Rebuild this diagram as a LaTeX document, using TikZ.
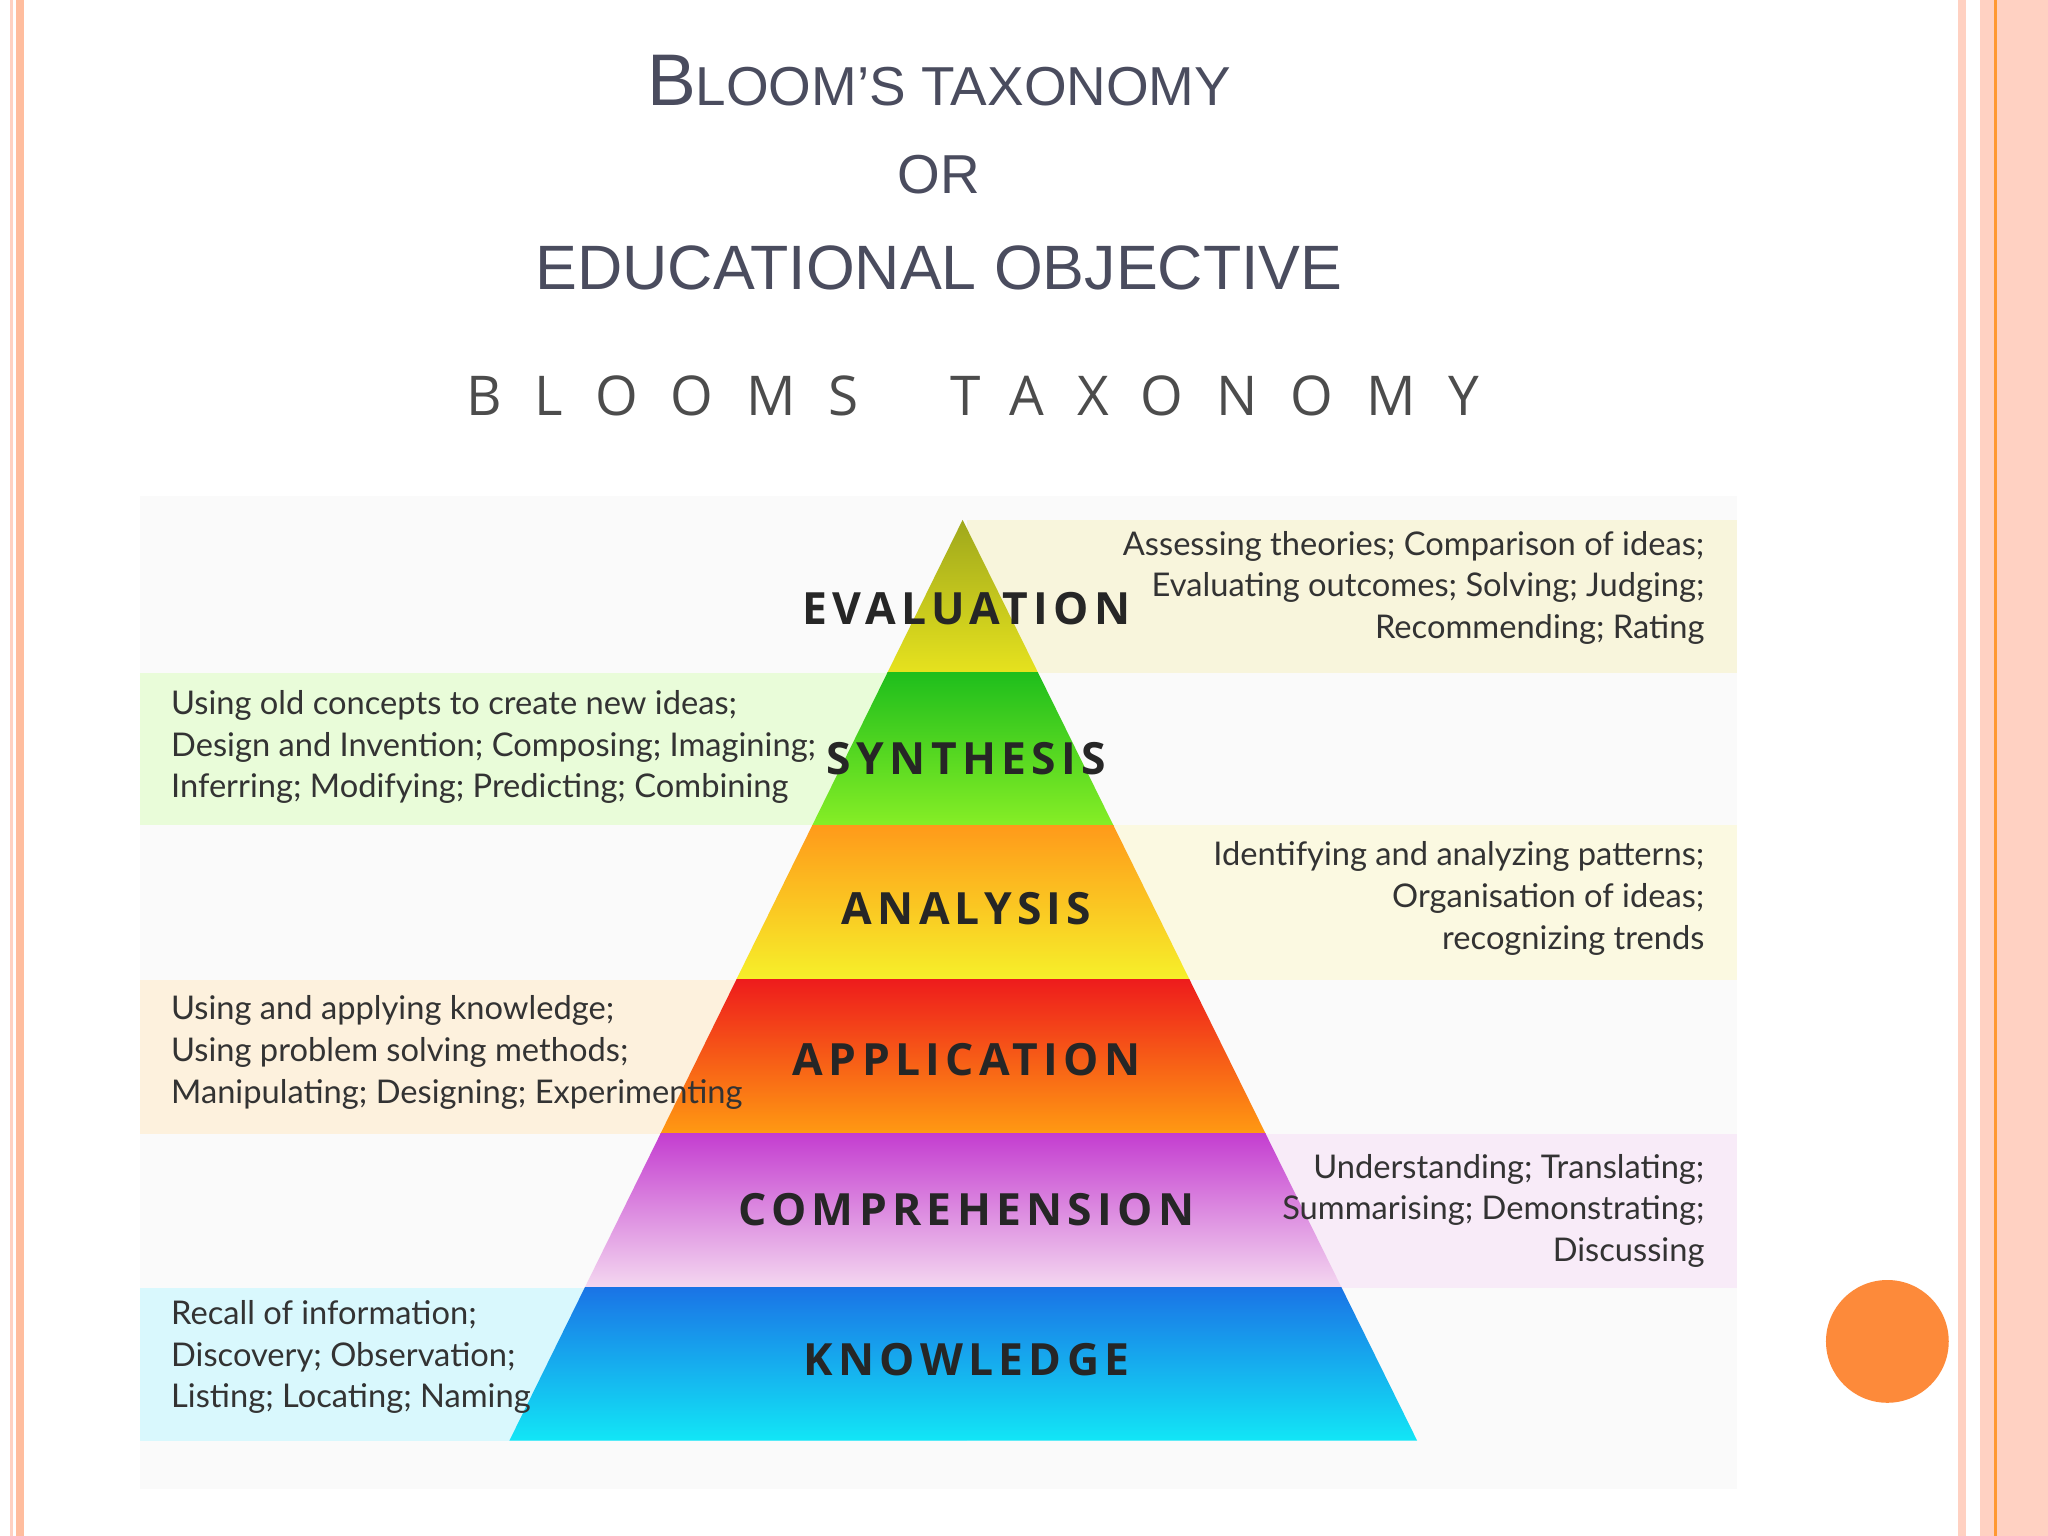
\documentclass[tikz,border=0pt]{standalone}
\usepackage{fontspec}
\setmainfont{Liberation Sans}
\newfontfamily\lvlfont[LetterSpace=12]{Open Sans}
\newfontfamily\sidefont{Lato}
\newfontfamily\bigspaced[LetterSpace=60]{Open Sans}
\usetikzlibrary{calc}
\definecolor{ttl}{HTML}{4A4C5E}
\definecolor{bEv}{HTML}{F8F5DC}
\definecolor{bSy}{HTML}{E9FCD9}
\definecolor{bAn}{HTML}{FBF9E1}
\definecolor{bAp}{HTML}{FDF1DD}
\definecolor{bCo}{HTML}{F8EBF8}
\definecolor{bKn}{HTML}{D9F8FD}
\definecolor{evA}{HTML}{9FA81C}\definecolor{evB}{HTML}{E6E21E}
\definecolor{syA}{HTML}{1FBE1C}\definecolor{syB}{HTML}{86EE26}
\definecolor{anA}{HTML}{FF9A1A}\definecolor{anB}{HTML}{F6F02A}
\definecolor{apA}{HTML}{EE1C1C}\definecolor{apB}{HTML}{FF9A12}
\definecolor{coA}{HTML}{C43ED0}\definecolor{coB}{HTML}{F4D8F0}
\definecolor{knA}{HTML}{1A74E6}\definecolor{knB}{HTML}{12E6F6}
\definecolor{dot}{HTML}{FD8A3A}
\begin{document}
\begin{tikzpicture}[x=0.5pt,y=-0.5pt,
  lvl/.style={font=\lvlfont\fontsize{17}{20}\bfseries, text=black!85},
  side/.style={font=\sidefont\fontsize{12.5}{16}\selectfont, text=black!80, align=left, anchor=west},
  sider/.style={font=\sidefont\fontsize{12.5}{16}\selectfont, text=black!80, align=right, anchor=east}]
\useasboundingbox (0,0) rectangle (1568,1176);
\fill[white] (0,0) rectangle (1568,1176);
% borders
\fill[orange!20!pink!60] (8,0) rectangle (10,1176);
\fill[orange!30!pink!80] (12,0) rectangle (18,1176);
\fill[orange!20!pink!60] (1499,0) rectangle (1505,1176);
\fill[orange!20!pink!60] (1516,0) rectangle (1568,1176);
\fill[orange!80] (1527,0) rectangle (1529,1176);
% titles
\node (t1) at (719,62) {\color{ttl}\fontsize{28}{30}\selectfont B\fontsize{21}{24}\selectfont LOOM’S TAXONOMY};
\node (t2) at (719,134) {\color{ttl}\fontsize{21}{24}\selectfont OR};
\node (t3) at (719,205) {\color{ttl}\fontsize{24}{28}\selectfont EDUCATIONAL OBJECTIVE};
\node (bt) at (745,303) {\color{black!70}\bigspaced\fontsize{21}{24}\selectfont BLOOMS\hspace{35pt}TAXONOMY};
% background
\fill[black!2] (107,380) rectangle (1330,1140);
\fill[bEv] (740,398) rectangle (1330,515);
\fill[bSy] (107,515) rectangle (740,632);
\fill[bAn] (740,632) rectangle (1330,750);
\fill[bAp] (107,750) rectangle (740,868);
\fill[bCo] (740,868) rectangle (1330,986);
\fill[bKn] (107,986) rectangle (740,1103);
% pyramid
\coordinate (apex) at (737,398);
\coordinate (bl) at (390,1103);
\coordinate (br) at (1085,1103);
\begin{scope}
\clip (apex) -- (bl) -- (br) -- cycle;
\shade[top color=evA, bottom color=evB] (380,398) rectangle (1100,515);
\shade[top color=syA, bottom color=syB] (380,515) rectangle (1100,632);
\shade[top color=anA, bottom color=anB] (380,632) rectangle (1100,750);
\shade[top color=apA, bottom color=apB] (380,750) rectangle (1100,868);
\shade[top color=coA, bottom color=coB] (380,868) rectangle (1100,986);
\shade[top color=knA, bottom color=knB] (380,986) rectangle (1100,1103);
\end{scope}
\node[lvl] (ev) at (740,466) {EVALUATION};
\node[lvl] (sy) at (740,581) {SYNTHESIS};
\node[lvl] (an) at (740,696) {ANALYSIS};
\node[lvl] (ap) at (740,811) {APPLICATION};
\node[lvl] (co) at (740,926) {COMPREHENSION};
\node[lvl] (kn) at (740,1041) {KNOWLEDGE};
% side texts
\node[sider] (evt) at (1312,450) {Assessing theories; Comparison of ideas;\\Evaluating outcomes; Solving; Judging;\\Recommending; Rating};
\node[side] (syt) at (124,572) {Using old concepts to create new ideas;\\Design and Invention; Composing; Imagining;\\Inferring; Modifying; Predicting; Combining};
\node[sider] (ant) at (1312,688) {Identifying and analyzing patterns;\\Organisation of ideas;\\recognizing trends};
\node[side] (apt) at (124,806) {Using and applying knowledge;\\Using problem solving methods;\\Manipulating; Designing; Experimenting};
\node[sider] (cot) at (1312,927) {Understanding; Translating;\\Summarising; Demonstrating;\\Discussing};
\node[side] (knt) at (124,1039) {Recall of information;\\Discovery; Observation;\\Listing; Locating; Naming};
% circle
\fill[dot] (1445,1027) circle (47);
\end{tikzpicture}
\end{document}
